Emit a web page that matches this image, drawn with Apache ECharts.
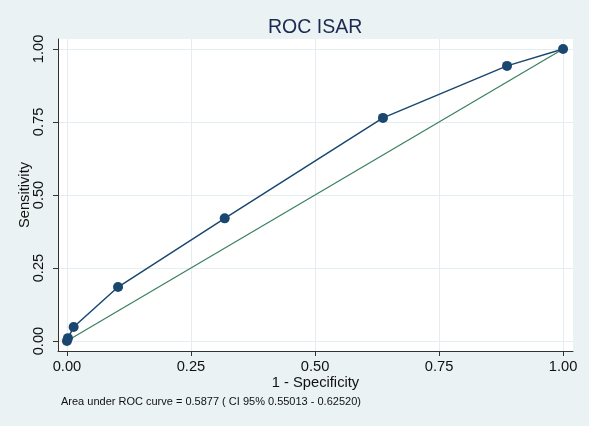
<!DOCTYPE html>
<html>
<head>
<meta charset="utf-8">
<script src="https://cdn.jsdelivr.net/npm/echarts@6/dist/echarts.min.js"></script>
<style>
html,body{margin:0;padding:0;background:#eaf2f3;}
#c{width:589px;height:426px;}
</style>
</head>
<body>
<div id="c"></div>
<script>
// Data
const specComplement = [0, 0.002, 0.0135, 0.103, 0.318, 0.637, 0.887, 1];
const sensitivity = [0, 0.010, 0.048, 0.185, 0.420, 0.764, 0.942, 1];
const refX = [0, 1];
const refY = [0, 1];
const tickValues = [0, 0.25, 0.5, 0.75, 1];
const titleText = 'ROC ISAR';
const noteText = 'Area under ROC curve = 0.5877 ( CI 95% 0.55013 - 0.62520)';

const FONT = '"Liberation Sans", Arial, Helvetica, sans-serif';
const chart = echarts.init(document.getElementById('c'), null, {renderer: 'canvas'});

const rocData = specComplement.map((x, i) => [x, sensitivity[i]]);
const refData = refX.map((x, i) => [x, refY[i]]);

function axisCommon(nameText) {
  return {
    type: 'value',
    name: nameText,
    nameLocation: 'middle',
    nameMoveOverlap: false,
    nameTextStyle: {fontFamily: FONT, fontSize: 14.7, color: '#111'},
    axisLine: {show: true, onZero: false, lineStyle: {color: '#333', width: 1}},
    axisTick: {show: true, length: 5, customValues: tickValues, lineStyle: {color: '#333', width: 1}},
    axisLabel: {
      customValues: tickValues,
      fontFamily: FONT, fontSize: 14.7, color: '#111',
      formatter: v => v.toFixed(2)
    },
    splitLine: {show: true, lineStyle: {color: '#e4edf0', width: 1}}
  };
}

const xAxis = axisCommon('1 - Specificity');
xAxis.min = -0.018; xAxis.max = 1.02;
xAxis.nameGap = 24;
xAxis.axisLabel.margin = 8;

const yAxis = axisCommon('Sensitivity');
yAxis.min = -0.034; yAxis.max = 1.034;
yAxis.nameGap = 25.5;
yAxis.axisLabel.rotate = 90;
yAxis.axisLabel.margin = 12;

chart.setOption({
  backgroundColor: '#eaf2f3',
  animation: false,
  title: [
    {text: titleText, left: 268, top: 18, padding: 0,
     textStyle: {fontFamily: FONT, fontSize: 19.5, fontWeight: 'normal', color: '#1c2a52'}},
    {text: noteText, left: 61, top: 396, padding: 0,
     textStyle: {fontFamily: FONT, fontSize: 11, fontWeight: 'normal', color: '#111'}}
  ],
  grid: {left: 58, right: 16, top: 39, bottom: 75, show: true, backgroundColor: '#ffffff', borderWidth: 0, containLabel: false},
  xAxis: xAxis,
  yAxis: yAxis,
  series: [
    {type: 'line', data: refData, symbol: 'none', z: 2,
     lineStyle: {color: '#3a7f5e', width: 1.2}},
    {type: 'line', data: rocData, symbol: 'circle', symbolSize: 10, z: 3,
     itemStyle: {color: '#1a476f'},
     lineStyle: {color: '#1a476f', width: 1.5}}
  ]
});
</script>
</body>
</html>
